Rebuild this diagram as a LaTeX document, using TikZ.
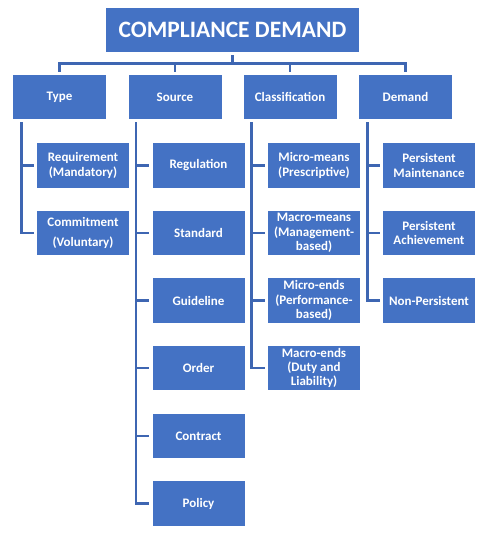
\documentclass[tikz,border=0pt]{standalone}
\usepackage{fontspec}
\setmainfont{Carlito}
\definecolor{boxblue}{HTML}{4472C4}
\definecolor{lineblue}{HTML}{3E66B2}
\begin{document}
\begin{tikzpicture}[x=1pt,y=-1pt,
  box/.style={draw=none,fill=boxblue,text=white,font=\bfseries\fontsize{13}{14.3}\selectfont,
    align=center,inner sep=0pt,minimum height=44.5pt},
  lvl/.style={box,minimum width=93pt},
  kid/.style={box,minimum width=92pt},
  conn/.style={draw=lineblue,line width=2.6pt,shorten <=3pt,shorten >=3pt}]
\useasboundingbox (0,0) rectangle (492,536);
\node[box,minimum width=253pt,minimum height=44pt,font=\bfseries\fontsize{23.5}{27}\selectfont] (title) at (232.5,30) {COMPLIANCE DEMAND};
\node[lvl] (type) at (59.5,97) {Type};
\node[lvl] (source) at (175,97) {Source};
\node[lvl] (class) at (290,97) {Classification};
\node[lvl] (demand) at (405.5,97) {Demand};
% Type children
\node[kid] (req) at (83,165.5) {Requirement\\(Mandatory)};
\node[kid] (com) at (83,233) {Commitment\\[5.5pt](Voluntary)};
% Source children
\node[kid] (reg) at (198.5,165.5) {Regulation};
\node[kid] (std) at (198.5,233) {Standard};
\node[kid] (gui) at (198.5,300.5) {Guideline};
\node[kid] (ord) at (198.5,368) {Order};
\node[kid] (con) at (198.5,436) {Contract};
\node[kid] (pol) at (198.5,503.5) {Policy};
% Classification children
\node[kid] (mim) at (314,165.5) {Micro-means\\(Prescriptive)};
\node[kid] (mam) at (314,233) {Macro-means\\(Management-\\based)};
\node[kid] (mie) at (314,300.5) {Micro-ends\\(Performance-\\based)};
\node[kid] (mae) at (314,368) {Macro-ends\\(Duty and\\Liability)};
% Demand children
\node[kid] (pm) at (429,165.5) {Persistent\\Maintenance};
\node[kid] (pa) at (429,233) {Persistent\\Achievement};
\node[kid] (np) at (429,300.5) {Non-Persistent};
% bus
\foreach \n in {type,source,class,demand}
  \draw[conn] (title.south) -- ++(0,11.5) -| (\n.north);
% stems
\coordinate (ts) at ([xshift=8.5pt]type.south west);
\coordinate (ss) at ([xshift=7.5pt]source.south west);
\coordinate (cs) at ([xshift=8pt]class.south west);
\coordinate (ds) at ([xshift=8.5pt]demand.south west);
\foreach \k in {req,com} \draw[conn] (ts) |- (\k.west);
\foreach \k in {reg,std,gui,ord,con,pol} \draw[conn] (ss) |- (\k.west);
\foreach \k in {mim,mam,mie,mae} \draw[conn] (cs) |- (\k.west);
\foreach \k in {pm,pa,np} \draw[conn] (ds) |- (\k.west);
\end{tikzpicture}
\end{document}
